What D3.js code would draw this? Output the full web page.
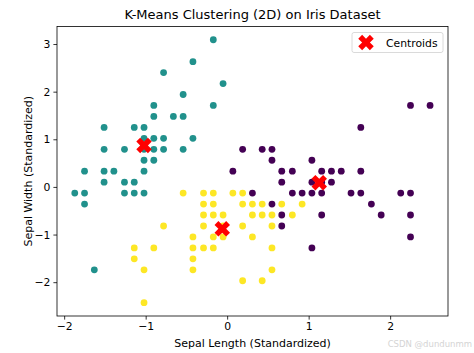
<!DOCTYPE html>
<html>
<head>
<meta charset="utf-8">
<script src="https://cdn.jsdelivr.net/npm/d3@7"></script>
<style>
  body { margin: 0; background: #fff; }
  svg { display: block; font-family: "DejaVu Sans", sans-serif; }
</style>
</head>
<body>
<div id="chart"></div>
<script>
// standardized [sepal length, sepal width] per cluster
var cluster0 = [
  [0.19, 0.79], [0.43, 0.79], [0.55, 0.79], [0.55, 0.56], [1.04, 0.56],
  [0.07, 0.33], [0.67, 0.33], [0.80, 0.33], [1.16, 0.33], [1.28, 0.33], [1.40, 0.33], [1.64, 0.33],
  [0.67, 0.10], [1.04, 0.10], [1.16, 0.10], [1.28, 0.10],
  [0.31, -0.13], [0.80, -0.13], [0.92, -0.13], [1.04, -0.13], [1.16, -0.13], [1.52, -0.13],
  [1.64, -0.13], [2.13, -0.13], [2.25, -0.13],
  [0.55, -0.36], [1.77, -0.36],
  [0.67, -0.59], [1.16, -0.59], [1.89, -0.59], [2.25, -0.59],
  [0.67, -0.82], [2.25, -1.05], [1.04, -1.28],
  [2.25, 1.71], [2.49, 1.71], [1.64, 1.25]
];
var cluster1 = [
  [-0.78, 2.40], [-0.54, 1.94], [-0.90, 1.71], [-0.90, 1.48], [-0.66, 1.48], [-0.54, 1.48],
  [-1.51, 1.25], [-1.14, 1.25], [-1.02, 1.25],
  [-1.02, 1.02], [-0.90, 1.02], [-0.78, 1.02],
  [-1.51, 0.79], [-1.26, 0.79], [-1.02, 0.79], [-0.90, 0.79], [-0.78, 0.79], [-0.54, 0.79],
  [-1.02, 0.56], [-0.90, 0.56],
  [-1.75, 0.33], [-1.51, 0.33], [-1.39, 0.33], [-1.02, 0.33],
  [-1.51, 0.10], [-1.26, 0.10], [-1.14, 0.10],
  [-1.87, -0.13], [-1.75, -0.13], [-1.26, -0.13], [-1.14, -0.13], [-1.02, -0.13],
  [-1.75, -0.36], [-1.63, -1.74],
  [-0.17, 3.09], [-0.42, 2.63], [-0.05, 2.17], [-0.17, 1.71], [-0.42, 1.02]
];
var cluster2 = [
  [-0.54, -0.13], [-0.78, -0.82], [-1.14, -1.28], [-0.90, -1.28], [-1.14, -1.51],
  [-1.02, -1.74], [-1.02, -2.43],
  [-0.29, -0.13], [-0.17, -0.13], [0.07, -0.13], [0.19, -0.13],
  [-0.29, -0.36], [-0.17, -0.36], [0.19, -0.36], [0.31, -0.36], [0.43, -0.36], [0.67, -0.36], [0.92, -0.36],
  [-0.29, -0.59], [-0.17, -0.59], [-0.05, -0.59], [0.31, -0.59], [0.43, -0.59], [0.55, -0.59], [0.80, -0.59],
  [-0.29, -0.82], [-0.05, -0.82], [0.19, -0.82], [0.55, -0.82],
  [-0.42, -1.05], [-0.17, -1.05], [-0.05, -1.05], [0.31, -1.05],
  [-0.42, -1.28], [-0.29, -1.28], [-0.17, -1.28], [0.55, -1.28],
  [-0.42, -1.51], [-0.42, -1.74], [0.55, -1.74],
  [0.19, -1.97], [0.43, -1.97]
];
var centroids = [[1.13, 0.09], [-1.02, 0.87], [-0.06, -0.88]];
var clusterColors = ["#440154", "#21918c", "#fde725"];
var xTicks = [-2, -1, 0, 1, 2];
var yTicks = [-2, -1, 0, 1, 2, 3];

function drawChart() {
  var width = 474, height = 353;
  var plotLeft = 57, plotRight = 448, plotTop = 26.5, plotBottom = 316;

  var svg = d3.select("#chart").append("svg")
    .attr("width", width).attr("height", height);

  var x = d3.scaleLinear().domain([-2.088, 2.71]).range([plotLeft, plotRight]);
  var y = d3.scaleLinear().domain([-2.71, 3.368]).range([plotBottom, plotTop]);

  var xAxis = svg.append("g")
    .attr("transform", "translate(0," + plotBottom + ")")
    .call(d3.axisBottom(x).tickValues(xTicks).tickSize(3.6).tickPadding(3).tickFormat(d3.format("d")));
  var yAxis = svg.append("g")
    .attr("transform", "translate(" + plotLeft + ",0)")
    .call(d3.axisLeft(y).tickValues(yTicks).tickSize(3.6).tickPadding(3).tickFormat(d3.format("d")));

  [xAxis, yAxis].forEach(function (g) {
    g.select(".domain").remove();
    g.selectAll("text").attr("font-size", 10.8).attr("fill", "#000")
      .attr("font-family", "DejaVu Sans, sans-serif");
    g.selectAll("line").attr("stroke", "#000").attr("stroke-width", 0.8);
  });

  // points
  var groups = [cluster0, cluster1, cluster2];
  groups.forEach(function (pts, i) {
    svg.append("g").selectAll("circle").data(pts).enter().append("circle")
      .attr("cx", function (d) { return x(d[0]); })
      .attr("cy", function (d) { return y(d[1]); })
      .attr("r", 3.4)
      .attr("fill", clusterColors[i]);
  });

  // centroid markers (filled X)
  var xMark = d3.symbol().type(d3.symbolCross).size(150);
  svg.append("g").selectAll("path").data(centroids).enter().append("path")
    .attr("d", xMark)
    .attr("transform", function (d) { return "translate(" + x(d[0]) + "," + y(d[1]) + ") rotate(45)"; })
    .attr("fill", "#ff0000");

  // frame
  svg.append("rect")
    .attr("x", plotLeft).attr("y", plotTop)
    .attr("width", plotRight - plotLeft).attr("height", plotBottom - plotTop)
    .attr("fill", "none").attr("stroke", "#000").attr("stroke-width", 0.8);

  // title and labels
  svg.append("text")
    .attr("x", (plotLeft + plotRight) / 2).attr("y", 19)
    .attr("text-anchor", "middle").attr("font-size", 13)
    .text("K-Means Clustering (2D) on Iris Dataset");

  svg.append("text")
    .attr("x", (plotLeft + plotRight) / 2).attr("y", 347)
    .attr("text-anchor", "middle").attr("font-size", 11)
    .text("Sepal Length (Standardized)");

  svg.append("text")
    .attr("transform", "translate(32," + ((plotTop + plotBottom) / 2) + ") rotate(-90)")
    .attr("text-anchor", "middle").attr("font-size", 11)
    .text("Sepal Width (Standardized)");

  // legend
  var legend = svg.append("g");
  legend.append("rect")
    .attr("x", 352).attr("y", 32.5).attr("width", 91).attr("height", 20)
    .attr("rx", 2).attr("fill", "#fff").attr("fill-opacity", 0.8)
    .attr("stroke", "#d0d0d0").attr("stroke-width", 0.8);
  legend.append("path")
    .attr("d", xMark)
    .attr("transform", "translate(366,42.5) rotate(45)")
    .attr("fill", "#ff0000");
  legend.append("text")
    .attr("x", 386).attr("y", 46.5).attr("font-size", 10.8)
    .text("Centroids");

  // watermark
  svg.append("text")
    .attr("x", 472).attr("y", 347)
    .attr("text-anchor", "end").attr("font-size", 8.5)
    .attr("fill", "#d4d4d4")
    .text("CSDN @dundunmm");
}

drawChart();
</script>
</body>
</html>
